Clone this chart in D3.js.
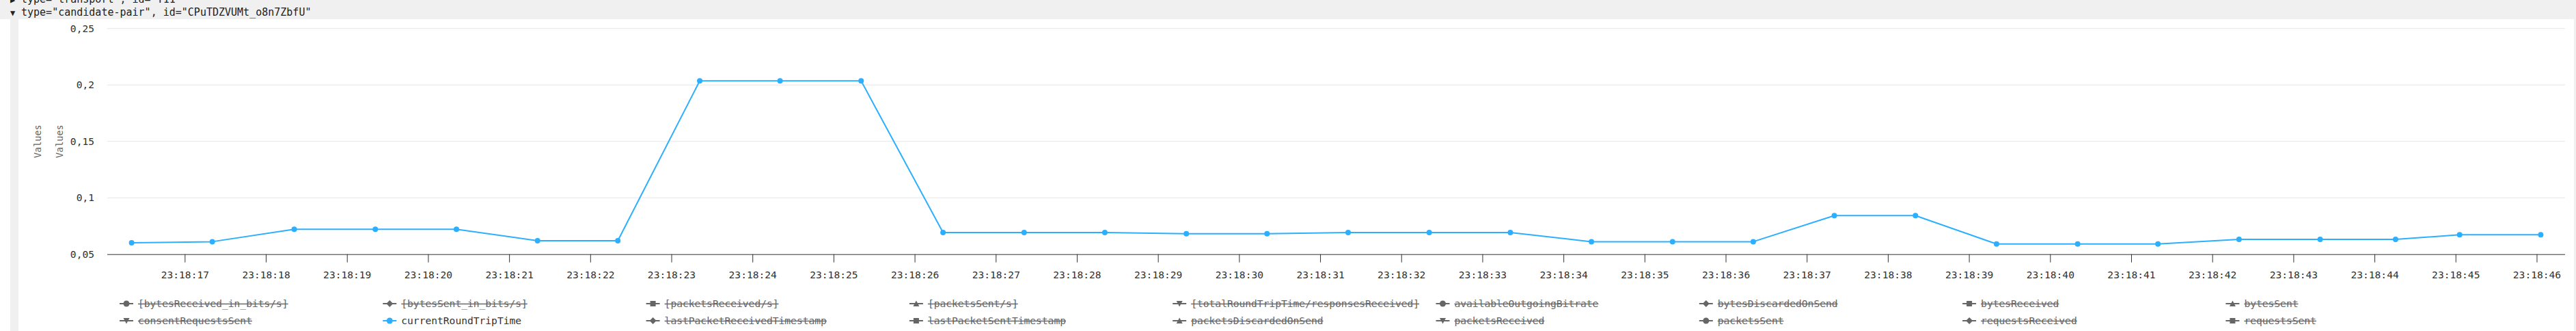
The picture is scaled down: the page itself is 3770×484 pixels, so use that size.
<!DOCTYPE html>
<html>
<head>
<meta charset="utf-8">
<script src="https://cdn.jsdelivr.net/npm/d3@7/dist/d3.min.js"></script>
<style>
  html, body { margin: 0; padding: 0; background: #fff; }
  svg { display: block; }
  text { font-family: "DejaVu Sans Mono", "Liberation Mono", monospace; }
</style>
</head>
<body>
<svg id="chart" width="3770" height="484"></svg>
<script>
// ---------- data ----------
const sampleTimes = [
  "23:18:16.345", "23:18:17.340", "23:18:18.350", "23:18:19.350", "23:18:20.350",
  "23:18:21.350", "23:18:22.340", "23:18:23.350", "23:18:24.340", "23:18:25.340",
  "23:18:26.350", "23:18:27.350", "23:18:28.345", "23:18:29.350", "23:18:30.345",
  "23:18:31.345", "23:18:32.345", "23:18:33.345", "23:18:34.345", "23:18:35.345",
  "23:18:36.340", "23:18:37.340", "23:18:38.340", "23:18:39.340", "23:18:40.340",
  "23:18:41.330", "23:18:42.330", "23:18:43.330", "23:18:44.260", "23:18:45.050",
  "23:18:46.050"
];
const currentRoundTripTime = [
  0.0601, 0.0611, 0.0721, 0.0721, 0.0721,
  0.0619, 0.0619, 0.2036, 0.2036, 0.2036,
  0.0692, 0.0692, 0.0692, 0.0682, 0.0682,
  0.0692, 0.0692, 0.0692, 0.0611, 0.0611,
  0.0611, 0.0842, 0.0842, 0.0591, 0.0591,
  0.0591, 0.0632, 0.0632, 0.0632, 0.0672,
  0.0672
];
const xTickTimes = [
  "23:18:17","23:18:18","23:18:19","23:18:20","23:18:21","23:18:22","23:18:23","23:18:24",
  "23:18:25","23:18:26","23:18:27","23:18:28","23:18:29","23:18:30","23:18:31","23:18:32",
  "23:18:33","23:18:34","23:18:35","23:18:36","23:18:37","23:18:38","23:18:39","23:18:40",
  "23:18:41","23:18:42","23:18:43","23:18:44","23:18:45","23:18:46"
];
const yTickValues = [0.05, 0.1, 0.15, 0.2, 0.25];
const yTickLabels = ["0,05", "0,1", "0,15", "0,2", "0,25"];
const xDomain = ["23:18:16.045", "23:18:46.350"];
const yDomain = [0.05, 0.25];

const legendNames = [
  "[bytesReceived_in_bits/s]", "[bytesSent_in_bits/s]", "[packetsReceived/s]", "[packetsSent/s]",
  "[totalRoundTripTime/responsesReceived]", "availableOutgoingBitrate", "bytesDiscardedOnSend",
  "bytesReceived", "bytesSent",
  "consentRequestsSent", "currentRoundTripTime", "lastPacketReceivedTimestamp",
  "lastPacketSentTimestamp", "packetsDiscardedOnSend", "packetsReceived", "packetsSent",
  "requestsReceived", "requestsSent"
];
const legendVisible = legendNames.map(n => n === "currentRoundTripTime");
const headerLines = ['type="transport", id="T11"', 'type="candidate-pair", id="CPuTDZVUMt_o8n7ZbfU"'];

// ---------- layout ----------
const W = 3770, H = 484;
const plot = { left: 157, right: 3754, top: 41.7, bottom: 371.7 };
const seriesColor = "#2caffe";
const fontSize = 14.6;

const parseT = t => {
  const [hh, mm, ss] = t.split(":");
  const s = parseFloat(ss);
  const d = new Date(2024, 0, 1, +hh, +mm, Math.floor(s));
  d.setMilliseconds(Math.round((s - Math.floor(s)) * 1000));
  return d;
};

const svg = d3.select("#chart");

// page background pieces
svg.append("rect").attr("x", 0).attr("y", 0).attr("width", W).attr("height", 28).attr("fill", "#f0f0f0");
svg.append("rect").attr("x", 15).attr("y", 28).attr("width", 12).attr("height", H - 28).attr("fill", "#f0f0f0");
svg.append("rect").attr("x", 3767).attr("y", 28).attr("width", 3).attr("height", H - 28).attr("fill", "#f0f0f0");

// header lines
const hdr = svg.append("g").attr("font-size", 15).attr("fill", "#222");
hdr.append("text").attr("x", 15).attr("y", 4).attr("font-size", 12).text("\u25B6");
hdr.append("text").attr("x", 31).attr("y", 4).text(headerLines[0]);
hdr.append("text").attr("x", 15).attr("y", 23).attr("font-size", 12).text("\u25BC");
hdr.append("text").attr("x", 31).attr("y", 23).text(headerLines[1]);

// scales
const x = d3.scaleTime().domain(xDomain.map(parseT)).range([plot.left, plot.right]);
const y = d3.scaleLinear().domain(yDomain).range([plot.bottom, plot.top]);

// gridlines
svg.append("g")
  .selectAll("line")
  .data(yTickValues.slice(1))
  .join("line")
  .attr("x1", plot.left).attr("x2", plot.right)
  .attr("y1", d => y(d)).attr("y2", d => y(d))
  .attr("stroke", "#e6e6e6").attr("stroke-width", 1);

// y axis labels
const yAxis = d3.axisLeft(y).tickValues(yTickValues).tickSize(0).tickPadding(0)
  .tickFormat((d, i) => yTickLabels[i]);
const yg = svg.append("g").attr("transform", `translate(${plot.left - 19},0)`).call(yAxis);
yg.select(".domain").remove();
yg.selectAll("text").attr("font-size", fontSize).attr("fill", "#333")
  .attr("font-family", '"DejaVu Sans Mono", monospace');

// axis titles
[54, 86].forEach(cx => {
  svg.append("text")
    .attr("transform", `translate(${cx + 6},${(plot.top + plot.bottom) / 2}) rotate(-90)`)
    .attr("text-anchor", "middle")
    .attr("font-size", 13.5).attr("fill", "#666")
    .text("Values");
});

// x axis
const xAxis = d3.axisBottom(x).tickValues(xTickTimes.map(parseT)).tickSize(12).tickPadding(0)
  .tickFormat(d3.timeFormat("%H:%M:%S"));
const xg = svg.append("g").attr("transform", `translate(0,${plot.bottom})`).call(xAxis);
xg.select(".domain").attr("d", `M${plot.left},0.5H${plot.right}`).attr("stroke", "#333");
xg.selectAll(".tick line").attr("stroke", "#333");
xg.selectAll(".tick text").attr("font-size", fontSize).attr("fill", "#333")
  .attr("font-family", '"DejaVu Sans Mono", monospace')
  .attr("y", 30).attr("dy", "0.35em");

// series
const pts = sampleTimes.map((t, i) => ({ t: parseT(t), v: currentRoundTripTime[i] }));
const line = d3.line().x(d => x(d.t)).y(d => y(d.v));
svg.append("path").datum(pts).attr("d", line)
  .attr("fill", "none").attr("stroke", seriesColor).attr("stroke-width", 2)
  .attr("stroke-linejoin", "round");
svg.append("g").selectAll("circle").data(pts).join("circle")
  .attr("cx", d => x(d.t)).attr("cy", d => y(d.v)).attr("r", 4)
  .attr("fill", seriesColor);

// legend
const symbolCycle = ["circle", "diamond", "square", "triangle", "triangle-down"];
const symbolPath = {
  "circle": d3.symbol(d3.symbolCircle, 64)(),
  "diamond": "M0,-5L5,0L0,5L-5,0Z",
  "square": "M-4,-4H4V4H-4Z",
  "triangle": "M0,-4.5L4.5,4L-4.5,4Z",
  "triangle-down": "M-4.5,-4H4.5L0,4.5Z"
};
const cols = 9, colStart = 175, colStep = 385.3, rowY = [444, 469];
const lg = svg.append("g");
legendNames.forEach((name, i) => {
  const c = i % cols, r = Math.floor(i / cols);
  const gx = colStart + c * colStep, gy = rowY[r];
  const vis = legendVisible[i];
  const col = vis ? seriesColor : "#666";
  const g = lg.append("g").attr("transform", `translate(${gx},${gy})`);
  g.append("line").attr("x1", 0).attr("x2", 20).attr("y1", 0).attr("y2", 0)
    .attr("stroke", col).attr("stroke-width", 2);
  g.append("path").attr("d", symbolPath[symbolCycle[i % 5]])
    .attr("transform", "translate(10,0)").attr("fill", col);
  g.append("text").attr("x", 27).attr("y", 0).attr("dy", "0.35em")
    .attr("font-size", fontSize)
    .attr("fill", vis ? "#333" : "#666")
    .style("text-decoration", vis ? "none" : "line-through")
    .text(name);
});
</script>
</body>
</html>
